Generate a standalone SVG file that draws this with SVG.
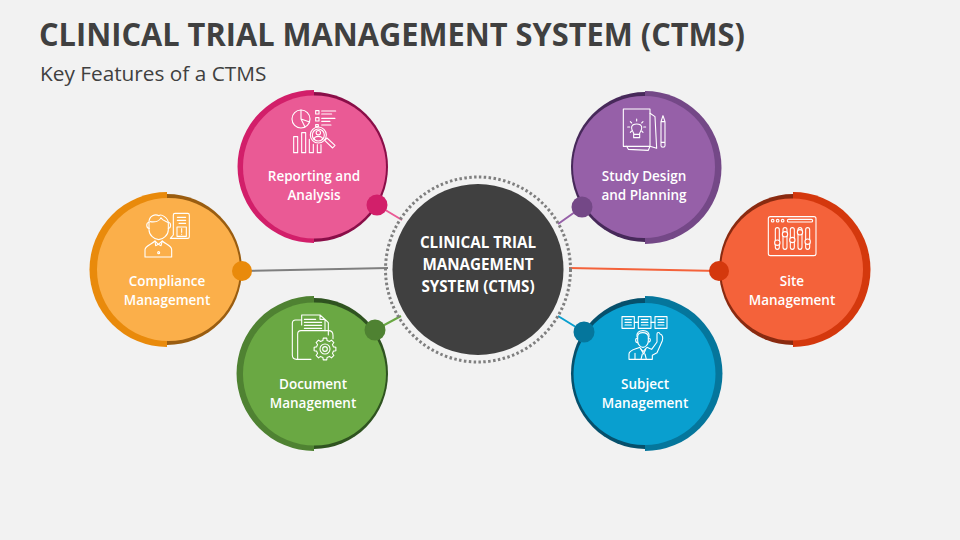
<svg xmlns="http://www.w3.org/2000/svg" width="960" height="540" viewBox="0 0 960 540">
<style>
text{font-family:"Open Sans","Noto Sans","Liberation Sans",sans-serif;}
.t{font-size:33px;font-weight:700;fill:#404040}
.s{font-size:20.800px;fill:#404040}
.l{font-size:13.500px;font-weight:600;fill:#fff;text-anchor:middle}
.c{font-size:15.200px;font-weight:700;fill:#fff;text-anchor:middle}
.i{fill:none;stroke:#fff;stroke-width:3.3;stroke-linecap:round;stroke-linejoin:round}
.k line{stroke-width:2}
</style>
<rect width="960" height="540" fill="#f2f2f2"/>
<text class="t" x="39" y="46" textLength="706" lengthAdjust="spacingAndGlyphs">CLINICAL TRIAL MANAGEMENT SYSTEM (CTMS)</text>
<text class="s" x="40" y="81">Key Features of a CTMS</text>
<g id="connectors" class="k">
<line x1="377" y1="205" x2="402" y2="220" stroke="#ea5a95"/>
<line x1="242" y1="271" x2="388" y2="268" stroke="#7f7f7f"/>
<line x1="375" y1="330" x2="401" y2="316" stroke="#6aa843"/>
<line x1="582" y1="207" x2="558" y2="224" stroke="#9660a8"/>
<line x1="719" y1="271" x2="569" y2="268" stroke="#f4623a"/>
<line x1="584" y1="332" x2="558" y2="316" stroke="#099fcf"/>
</g>
<g id="center">
<circle cx="478" cy="269.500" r="92.500" fill="none" stroke="#7f7f7f" stroke-width="3" stroke-dasharray="2.500 2.400"/>
<circle cx="478" cy="269.500" r="85.500" fill="#404040"/>
<text class="c" x="478" y="248">CLINICAL TRIAL</text>
<text class="c" x="478" y="270">MANAGEMENT</text>
<text class="c" x="478" y="292">SYSTEM (CTMS)</text>
</g>
<g id="reporting">
<path d="M313 92A75 75 0 0 1 313 242Z" fill="#8a0e48"/>
<path d="M314 90A76.500 76.500 0 0 0 314 243Z" fill="#d21f6a"/>
<circle cx="314.500" cy="167" r="71.500" fill="#ea5a95"/>
<circle cx="377" cy="205" r="10.500" fill="#d21f6a"/>
<g class="i" transform="translate(285 100) scale(.3333)">
<circle cx="48" cy="57" r="27"/><path d="M48 30V57L74 66M48 57L60 81"/>
<rect x="92" y="32" width="10" height="10"/><rect x="92" y="53" width="10" height="10"/><rect x="92" y="74" width="8" height="6"/>
<path d="M110 33H152M110 42H140M110 55H150M110 64H135M110 75H138"/>
<rect x="26" y="110" width="12" height="48"/><rect x="50" y="98" width="12" height="60"/>
<path d="M73 118V158H85V133M97 134V158H108V134"/>
<circle cx="100" cy="105" r="24"/><circle cx="100" cy="105" r="18"/><circle cx="100" cy="98" r="6.500"/><path d="M87 118C88 106 112 106 113 118"/>
<path d="M119 121L126 114L150 136L143 144Z"/>
</g>
<text class="l" x="314" y="181">Reporting and</text>
<text class="l" x="314" y="200">Analysis</text>
</g>
<g id="compliance">
<path d="M167 194A75 75.500 0 0 1 167 345Z" fill="#9a5d10"/>
<path d="M167 192A77.500 77.500 0 0 0 167 347Z" fill="#e98a0b"/>
<circle cx="168.500" cy="269.500" r="71.500" fill="#fbaf4a"/>
<circle cx="242" cy="271" r="10" fill="#e98a0b"/>
<g class="i" transform="translate(135 205) scale(.3333)">
<path d="M42 52C42 32 60 26 72 32C78 26 100 38 100 54V74C100 90 84 104 71 104C58 104 42 90 42 74Z"/>
<path d="M42 52C32 54 34 70 43 70M100 52C110 54 108 70 100 70M46 50C60 52 74 48 78 38C82 46 90 48 98 52"/>
<path d="M30 156V134C30 122 50 118 60 108L70 118L82 108C92 118 110 122 110 134V156Z"/>
<path d="M60 108L62 122L70 118L78 122L82 108"/><circle cx="71" cy="143" r="3"/>
<path d="M120 25H158Q163 25 163 30V95Q163 100 158 100H120L106 100L115 90V30Q115 25 120 25Z"/>
<path d="M127 37H152M127 46H152M132 55H152"/><rect x="126" y="66" width="28" height="28"/><path d="M140 71V82M140 87V88"/>
</g>
<text class="l" x="167" y="286">Compliance</text>
<text class="l" x="167" y="305">Management</text>
</g>
<g id="document">
<path d="M314 298A74 75.500 0 0 1 314 449Z" fill="#2f5320"/>
<path d="M314 296A77.500 77.500 0 0 0 314 451Z" fill="#4f8232"/>
<circle cx="314.500" cy="374" r="71.500" fill="#6aa843"/>
<circle cx="375" cy="330" r="10.500" fill="#4f8232"/>
<g class="i" transform="translate(285 310) scale(.3333)">
<path d="M50 45V15H105L120 28V62M105 15V28H120M120 28L130 38V75"/>
<path d="M58 28H92M58 37H110M58 46H110M58 55H110"/>
<path d="M50 30H32Q22 30 22 40V135Q22 148 35 148H78"/>
<path d="M38 148V72Q38 62 48 62H130Q144 62 144 76V86"/>
<path fill="#6aa843" d="M145.200 110.700L152.600 111.800L152.600 122.200L145.200 123.300L142.300 130.400L146.700 136.400L139.400 143.700L133.400 139.300L126.300 142.200L125.200 149.600L114.800 149.600L113.700 142.200L106.600 139.300L100.600 143.700L93.300 136.400L97.700 130.400L94.800 123.300L87.400 122.200L87.400 111.800L94.800 110.700L97.700 103.600L93.300 97.600L100.600 90.300L106.600 94.700L113.700 91.800L114.800 84.400L125.200 84.400L126.300 91.800L133.400 94.700L139.400 90.300L146.700 97.600L142.300 103.600Z"/>
<circle cx="120" cy="117" r="15"/><circle cx="120" cy="117" r="7"/>
</g>
<text class="l" x="313" y="389">Document</text>
<text class="l" x="313" y="408">Management</text>
</g>
<g id="study">
<path d="M645 92A74 75 0 0 0 645 242Z" fill="#47295a"/>
<path d="M645 91A76.500 76.500 0 0 1 645 244Z" fill="#744887"/>
<circle cx="644" cy="167" r="71" fill="#9660a8"/>
<circle cx="582" cy="207" r="10.500" fill="#744887"/>
<g class="i" transform="translate(615 105) scale(.3333)">
<rect x="25" y="12" width="80" height="112"/>
<path d="M105 25L120 35L125 130L105 124M35 124L40 133L100 136L105 124"/>
<path d="M138 50L144 32L150 50V122C150 128 138 128 138 122ZM138 50H150M138 112H150"/>
<path d="M56 84C52 78 48 74 50 66C52 54 78 54 80 66C82 74 78 78 74 84V98H56ZM56 88H74"/>
<path d="M65 42V48M46 50L50 54M84 50L80 54M38 66H44M86 66H92M46 82L50 78M84 82L80 78"/>
</g>
<text class="l" x="644" y="181">Study Design</text>
<text class="l" x="644" y="200">and Planning</text>
</g>
<g id="site">
<path d="M793 194A74 75.500 0 0 0 793 345Z" fill="#8a2a10"/>
<path d="M793 192A77.500 77.500 0 0 1 793 347Z" fill="#d4380d"/>
<circle cx="792" cy="269.500" r="71" fill="#f4623a"/>
<circle cx="719" cy="271" r="10" fill="#d4380d"/>
<g class="i" transform="translate(705 190) scale(.3333)">
<rect x="190" y="80" width="143" height="117" rx="6"/>
<circle cx="203" cy="92" r="4"/><circle cx="218" cy="92" r="4"/><circle cx="233" cy="92" r="4"/><rect x="247" y="88" width="76" height="8" rx="4"/>
<rect x="211" y="113" width="12" height="65" rx="6"/><rect x="234" y="113" width="12" height="65" rx="6"/><rect x="256" y="113" width="12" height="65" rx="6"/><rect x="279" y="113" width="12" height="65" rx="6"/><rect x="302" y="113" width="12" height="65" rx="6"/>
<circle cx="217" cy="158" r="8" fill="#f4623a"/><circle cx="240" cy="133" r="8" fill="#f4623a"/><circle cx="262" cy="150" r="8" fill="#f4623a"/><circle cx="285" cy="127" r="8" fill="#f4623a"/><circle cx="308" cy="155" r="8" fill="#f4623a"/>
</g>
<text class="l" x="792" y="286">Site</text>
<text class="l" x="792" y="305">Management</text>
</g>
<g id="subject">
<path d="M645 298A74 75.500 0 0 0 645 449Z" fill="#06506c"/>
<path d="M645 296A77.500 77.500 0 0 1 645 451Z" fill="#05769c"/>
<circle cx="644.500" cy="374" r="71" fill="#099fcf"/>
<circle cx="584" cy="332" r="10.500" fill="#05769c"/>
<g class="i" transform="translate(615 310) scale(.3333)">
<rect x="21" y="20" width="37" height="35"/><rect x="70" y="20" width="38" height="35"/><rect x="120" y="20" width="36" height="35"/>
<path d="M58 37H70M108 37H120"/>
<path d="M30 29H49M30 37H49M30 45H49M79 29H99M79 37H99M79 45H99M129 29H147M129 37H147M129 45H147"/>
<path d="M68 80C68 64 98 64 100 80V92C100 104 91 112 84 112C77 112 68 104 68 92Z"/>
<path d="M68 84C60 84 60 98 68 98M100 84C108 84 108 96 100 96M66 80C64 68 72 62 84 62C96 62 104 68 102 80"/>
<path d="M42 148V132C42 120 62 118 74 112L84 125L96 112C104 116 106 116 110 118L126 96V72C126 66 134 66 135 72C144 74 144 84 142 92L126 128L112 136V148M42 148H112"/>
<path d="M78 118L86 132L92 118M82 132L78 148M90 132L94 148M60 130V148"/>
</g>
<text class="l" x="645" y="389">Subject</text>
<text class="l" x="645" y="408">Management</text>
</g>
</svg>
